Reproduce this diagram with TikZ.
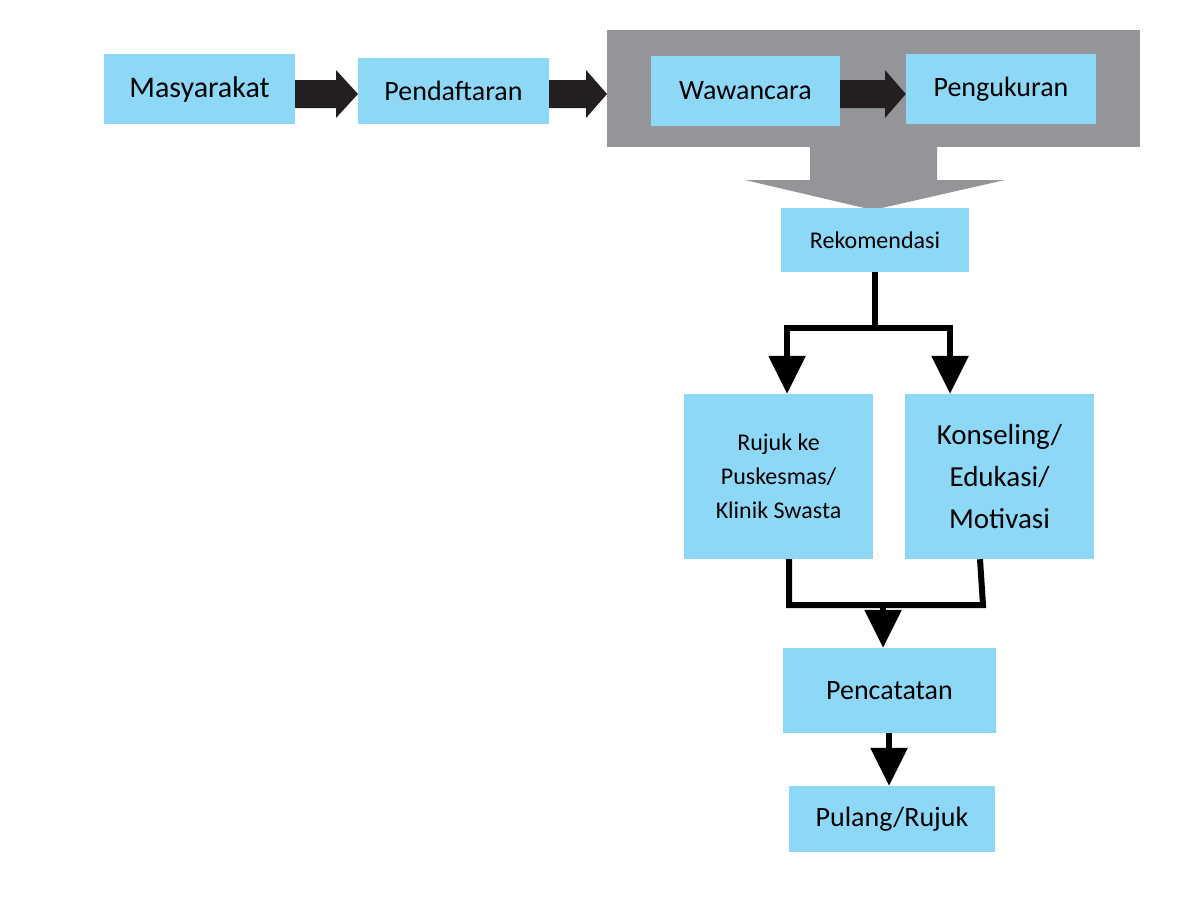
\documentclass[tikz,border=0pt]{standalone}
\usepackage{fontspec}
\setmainfont{Carlito}
\usetikzlibrary{arrows.meta,shapes.arrows}
\definecolor{boxblue}{HTML}{8DD7F7}
\definecolor{panelgray}{HTML}{939598}
\definecolor{arrdark}{HTML}{231F20}
\begin{document}
\begin{tikzpicture}[x=1pt,y=-1pt,
  box/.style={fill=boxblue,draw=none,inner sep=0pt,align=center,text=black},
  blk/.style={single arrow,fill=arrdark,draw=none,minimum height=#1,single arrow head extend=6pt,minimum width=48pt,inner sep=0pt,single arrow tip angle=90},
  con/.style={line width=6pt,draw=black,-{Triangle[length=38pt,width=36pt]}},
  ln/.style={line width=6pt,draw=black}]
\useasboundingbox (0,0) rectangle (1200,900);
\fill[panelgray] (607,30) rectangle (1140,147);
\fill[panelgray] (810,146) -- (937,146) -- (937,180) -- (1005,180) -- (873,210) -- (745,180) -- (810,180) -- cycle;
\node[box,minimum width=191pt,minimum height=70pt,font=\fontsize{30}{34}\selectfont] (m) at (199.5,89) {Masyarakat};
\node[box,minimum width=191pt,minimum height=66pt,font=\fontsize{28}{32}\selectfont] (p) at (453.5,91) {Pendaftaran};
\node[box,minimum width=189pt,minimum height=70pt,font=\fontsize{28}{32}\selectfont] (w) at (745.5,91) {Wawancara};
\node[box,minimum width=190pt,minimum height=70pt,font=\fontsize{28}{32}\selectfont] (g) at (1001,89) {Pengukuran};
\node[box,minimum width=188pt,minimum height=64pt,font=\fontsize{24}{28}\selectfont] (r) at (875,240) {Rekomendasi};
\node[box,minimum width=189pt,minimum height=165pt,font=\fontsize{24}{34}\selectfont] (k1) at (778.5,476.5) {Rujuk ke\\Puskesmas/\\Klinik Swasta};
\node[box,minimum width=189pt,minimum height=165pt,font=\fontsize{29}{42}\selectfont] (k2) at (999.5,476.5) {Konseling/\\Edukasi/\\Motivasi};
\node[box,minimum width=213pt,minimum height=85pt,font=\fontsize{28}{32}\selectfont] (pc) at (889.5,690.5) {Pencatatan};
\node[box,minimum width=206pt,minimum height=66pt,font=\fontsize{28}{32}\selectfont] (pl) at (892,819) {Pulang/Rujuk};
\coordinate (gl) at (607,94);
% block arrows
\fill[arrdark] (m.east|-0,80) -- (336,80) -- (336,70) -- (358,94) -- (336,118) -- (336,108) -- (m.east|-0,108) -- cycle;
\fill[arrdark] (p.east|-0,80) -- (586,80) -- (586,70) -- (gl) -- (586,118) -- (586,108) -- (p.east|-0,108) -- cycle;
\fill[arrdark] (w.east|-0,80) -- (885,80) -- (885,70) -- (g.west|-0,94) -- (885,118) -- (885,108) -- (w.east|-0,108) -- cycle;
% connectors
\coordinate (j1) at (875,328);
\draw[ln] (r.south) -- (j1);
\draw[con] (787,328) -- (k1.north-|787,0);
\draw[ln] (784,328) -- (953,328);
\draw[con] (950,328) -- (k2.north-|950,0);
\draw[ln] (k1.south-|789,0) |- (983,605) -- (k2.south-|980,0);
\draw[con] (883,603) -- (pc.north-|883,0);
\draw[con] (pc.south-|889,0) -- (pl.north-|889,0);
\end{tikzpicture}
\end{document}
